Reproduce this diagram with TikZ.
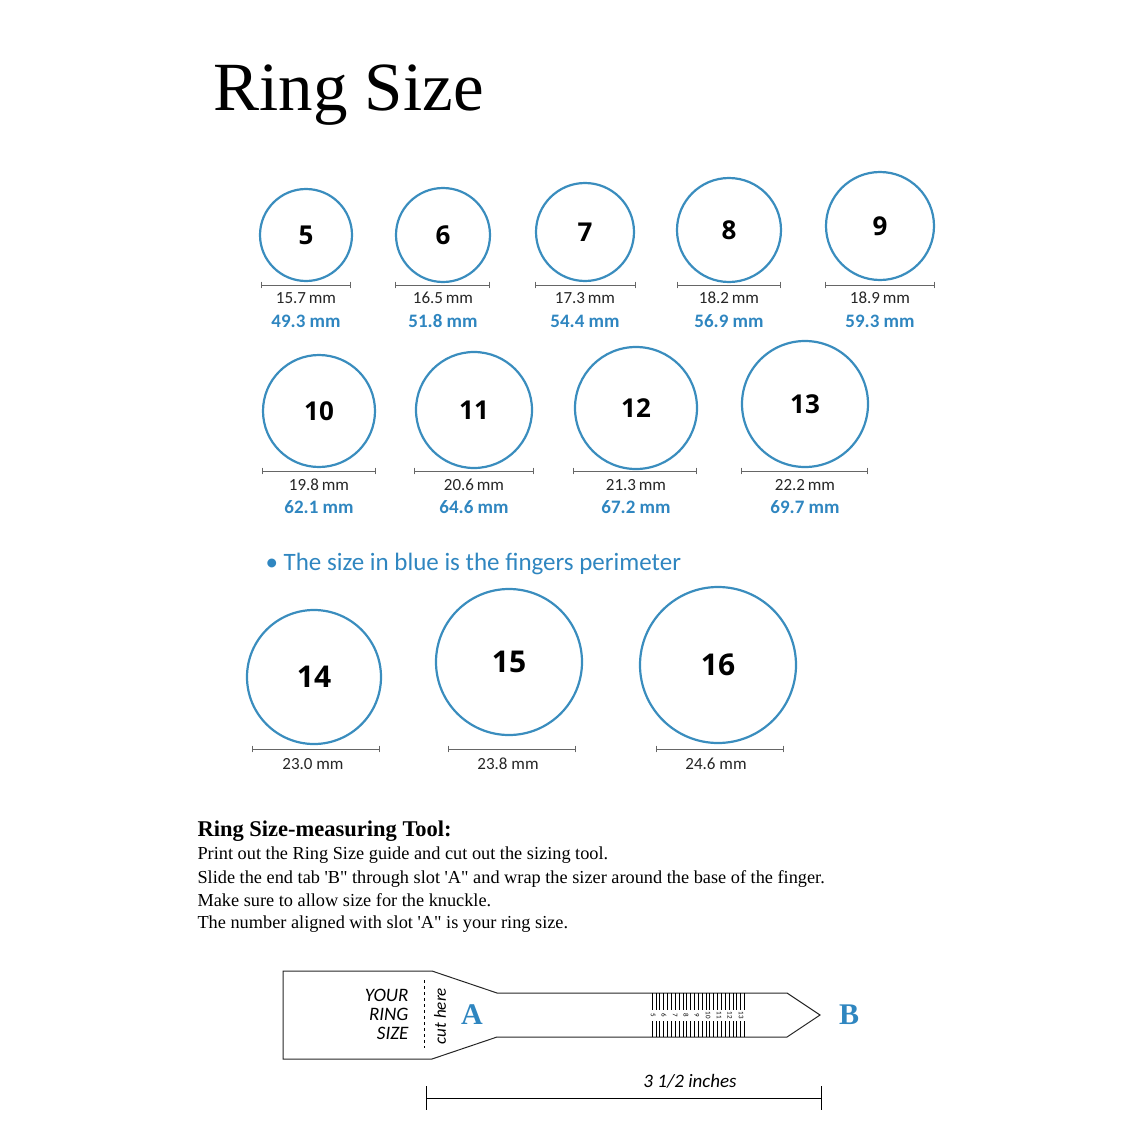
\documentclass[tikz,border=0pt]{standalone}
\usepackage{fontspec}
\setmainfont{Liberation Serif}
\newfontfamily\plainserif[Ligatures=TeXOff]{Liberation Serif}
\newfontfamily\sz{Carlito}
\newfontfamily\nz{Open Sans}
\definecolor{rb}{HTML}{3A8DBE}
\definecolor{tb}{HTML}{2F86C0}
\begin{document}
\begin{tikzpicture}[x=1pt,y=-1pt,
  ring/.style={circle,draw=rb,line width=2.2pt,inner sep=0pt,font=\nz\fontsize{26}{26}\selectfont\bfseries},
  dim/.style={draw=gray!80!black,line width=0.7pt,|-|},
  mm/.style={font=\sz\fontsize{17}{17}\selectfont,text=black!85},
  bl/.style={font=\sz\fontsize{19}{19}\selectfont\bfseries,text=tb},
  body/.style={font=\plainserif\fontsize{18.3}{20}\selectfont,anchor=west}]
\useasboundingbox (0,0) rectangle (1140,1140);
\node[anchor=west,font=\fontsize{69}{69}\selectfont] (title) at (210,95) {Ring Size};
% row 1
\foreach \n/\x/\y/\r/\a/\b/\m/\p in {5/306/235/46/261/351/15.7/49.3,6/443/235/47/395/490/16.5/51.8,7/585/232/49/535/636/17.3/54.4,8/729/230/52/677/781/18.2/56.9,9/880/226/54/825/935/18.9/59.3}{
  \node[ring,minimum size=2*\r] (r\n) at (\x,\y) {\n};
  \coordinate (l\n) at (\a,285); \coordinate (m\n) at (\b,285);
  \draw[dim] (l\n) -- (m\n);
  \node[mm] (t\n) at (\x,298) {\m\,mm};
  \node[bl] (p\n) at (\x,321) {\p\ mm};}
% row 2
\foreach \n/\x/\y/\r/\a/\b/\m/\p in {10/319/411/56/262/376/19.8/62.1,11/474/410/58/414/534/20.6/64.6,12/636/408/61/573/697/21.3/67.2,13/805/404/63/741/868/22.2/69.7}{
  \node[ring,minimum size=2*\r] (r\n) at (\x,\y) {\n};
  \coordinate (l\n) at (\a,471); \coordinate (m\n) at (\b,471);
  \draw[dim] (l\n) -- (m\n);
  \node[mm] (t\n) at (\x,485) {\m\,mm};
  \node[bl] (p\n) at (\x,507) {\p\ mm};}
\node[anchor=west,font=\sz\fontsize{25}{25}\selectfont,text=tb] (note) at (262,564) {\textbullet\ The size in blue is the fingers perimeter};
% row 3
\foreach \n/\x/\y/\r/\a/\b/\m/\tx in {14/314/677/67/252/380/23.0/313,15/509/662/73/448/576/23.8/508,16/718/665/78/656/784/24.6/716}{
  \node[ring,minimum size=2*\r,font=\nz\fontsize{30}{30}\selectfont\bfseries] (r\n) at (\x,\y) {\n};
  \coordinate (l\n) at (\a,749); \coordinate (m\n) at (\b,749);
  \draw[dim] (l\n) -- (m\n);
  \node[mm] (t\n) at (\tx,764) {\m\ mm};}
% text
\node[body,font=\plainserif\fontsize{22.5}{22}\selectfont\bfseries] (h) at (194,831) {Ring Size-measuring Tool:};
\node[body] (b1) at (194,855) {Print out the Ring Size guide and cut out the sizing tool.};
\node[body] (b2) at (194,879) {Slide the end tab 'B" through slot 'A" and wrap the sizer around the base of the finger.};
\node[body] (b3) at (194,900) {Make sure to allow size for the knuckle.};
\node[body] (b4) at (194,924) {The number aligned with slot 'A" is your ring size.};
% sizer
\draw[line width=1pt,black!85] (283,971) -- (432,971) -- (497,993) -- (787,993) -- (820,1015) -- (787,1037) -- (497,1037) -- (432,1059) -- (283,1059) -- cycle;
\draw[dashed,line width=0.7pt] (424,980) -- (424,1048);
\node[align=right,anchor=east,font=\sz\itshape\fontsize{19}{19}\selectfont] (yrs) at (412,1014) {YOUR\\RING\\SIZE};
\node[rotate=90,font=\sz\itshape\fontsize{17}{17}\selectfont] (cut) at (440,1016) {cut here};
\node[font=\fontsize{30}{30}\selectfont\bfseries,text=tb] (A) at (472,1015) {A};
\node[font=\fontsize{30}{30}\selectfont\bfseries,text=tb] (B) at (849,1015) {B};
\foreach \i in {0,...,24}{
  \draw[line width=0.6pt] ({652+\i*3.85},993) -- ({652+\i*3.85},1010);
  \draw[line width=0.6pt] ({652+\i*3.85},1021) -- ({652+\i*3.85},1037);}
\foreach \k [count=\j from 0] in {5,...,13}
  \node[rotate=-90,font=\sz\fontsize{7}{7}\selectfont,inner sep=0pt] (n\k) at ({653+\j*11},1015) {\k};
\coordinate (dl) at (426,1098); \coordinate (dr) at (821,1098);
\draw[line width=1pt] (dl) -- (dr);
\draw[line width=1pt] (426,1086) -- (426,1110) (821,1086) -- (821,1110);
\node[font=\sz\itshape\fontsize{19}{19}\selectfont] (inch) at (690,1081) {3 1/2 inches};
\end{tikzpicture}
\end{document}
